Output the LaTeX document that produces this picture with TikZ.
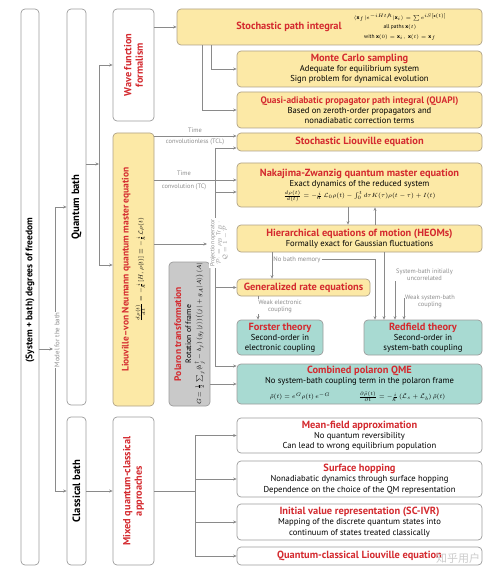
\documentclass[tikz,border=0pt]{standalone}
\usepackage{amsmath,amssymb}
\usepackage{fontspec}
\setmainfont{PT Sans}
\newfontfamily\cjkfont{Noto Sans CJK SC}
\usetikzlibrary{arrows.meta}
\definecolor{ylw}{HTML}{FCE9A6}
\definecolor{tealb}{HTML}{A8DAD2}
\definecolor{polg}{HTML}{C9C9C9}
\definecolor{edgeg}{HTML}{9C9C9C}
\definecolor{yedge}{HTML}{AFA287}
\definecolor{titred}{HTML}{D42A2F}
\definecolor{lblgray}{HTML}{8C8C8C}
\definecolor{arrg}{HTML}{8A8A8A}
\newcommand{\ttl}[1]{{\fontsize{10.4}{10.5}\selectfont\bfseries\color{titred}#1}}
\newcommand{\ttlq}[1]{{\fontsize{9.4}{10.5}\selectfont\bfseries\color{titred}#1}}
\newcommand{\ttlv}[1]{{\fontsize{9.5}{11}\selectfont\bfseries\color{titred}#1}}
\newcommand{\smallmath}{\fontsize{6.3}{8}\selectfont}
\begin{document}
\begin{tikzpicture}[x=1pt,y=-1pt,
  box/.style={draw=edgeg, line width=0.7pt, rounded corners=4pt, inner sep=0pt, align=center, font=\fontsize{8.6}{10.2}\selectfont},
  wbox/.style={box, fill=white},
  ybox/.style={box, fill=ylw, draw=yedge},
  tbox/.style={box, fill=tealb},
  gbox/.style={box, fill=polg},
  hb/.style={font=\fontsize{9.5}{11}\selectfont\bfseries, inner sep=0pt},
  hbl/.style={font=\fontsize{10.6}{11}\selectfont\bfseries, inner sep=0pt},
  hr/.style={font=\fontsize{10.3}{11.5}\selectfont\bfseries, inner sep=0pt, text=titred, align=center},
  lbl/.style={text=lblgray, font=\fontsize{6.4}{7.4}\selectfont, inner sep=0.8pt, align=center},
  arr/.style={draw=arrg, line width=0.6pt, -{Stealth[length=3.5pt,width=3pt]}},
  conn/.style={draw=arrg, line width=0.6pt}]
\useasboundingbox (0,0) rectangle (500,577);

% ---------- left columns ----------
\node[wbox, minimum width=18, minimum height=556] (sys) at (30,287) {};
\node[rotate=90, hb] (syst) at (30,290) {(System + bath) degrees of freedom};
\node[wbox, minimum width=19, minimum height=396] (qb) at (76.5,207) {};
\node[rotate=90, hbl] (qbt) at (qb) {Quantum bath};
\node[wbox, minimum width=19, minimum height=148] (cb) at (76.5,491) {};
\node[rotate=90, hbl] (cbt) at (cb) {Classical bath};

\node[wbox, minimum width=41, minimum height=112] (wf) at (133.5,65) {};
\node[rotate=90, hr] (wft) at (wf) {Wave function\\formalism};
\node[ybox, minimum width=41, minimum height=273] (lvn) at (133.5,269.5) {};
\node[rotate=90, align=center, inner sep=0pt] (lvnt) at (lvn)
  {\ttlv{Liouville–von Neumann quantum master equation}\\[2pt]
   {\smallmath$\frac{d\rho(t)}{dt} = -\frac{i}{\hbar}[H,\rho(t)] \equiv -\frac{i}{\hbar}\mathcal{L}\rho(t)$}};
\node[wbox, minimum width=41, minimum height=148] (mqc) at (133.5,491) {};
\node[rotate=90, hr] (mqct) at (mqc) {Mixed quantum-classical\\approaches};

\node[gbox, minimum width=41, minimum height=144] (pol) at (189.5,334) {};
\node[rotate=90, align=center, inner sep=0pt, font=\fontsize{7.8}{10}\selectfont] (polt) at (pol)
  {\ttlv{Polaron transformation}\\Rotation of frame\\
   {\smallmath$G=\frac{1}{2}\sum_j(b_j^{\dagger}-b_j)\,(g_j|j\rangle)\big(\langle j|+g_A|A\rangle\big)\langle A|$}};

% ---------- right column: quantum ----------
\node[ybox, minimum width=305, minimum height=36] (spi) at (329.5,27) {};
\node[inner sep=0pt] (spit) at (289,27) {\ttl{Stochastic path integral}};
\node[inner sep=0pt, align=center, font=\fontsize{5.5}{9.5}\selectfont] (spif) at (400,27)
  {$\langle\mathbf{x}_f|e^{-iHt/\hbar}|\mathbf{x}_i\rangle=\sum e^{iS[\mathbf{x}(t)]}$\\
   all paths $\mathbf{x}(t)$\\
   with $\mathbf{x}(0)=\mathbf{x}_i,\ \mathbf{x}(t)=\mathbf{x}_f$};

\node[ybox, minimum width=245, minimum height=36] (mc) at (359.5,69)
  {\ttl{Monte Carlo sampling}\\Adequate for equilibrium system\\Sign problem for dynamical evolution};
\node[ybox, minimum width=245, minimum height=36] (quapi) at (359.5,110)
  {\ttlq{Quasi-adiabatic propagator path integral (QUAPI)}\\Based on zeroth-order propagators and\\nonadiabatic correction terms};
\node[ybox, minimum width=245, minimum height=18] (sle) at (359.5,142)
  {\ttl{Stochastic Liouville equation}};
\node[ybox, minimum width=245, minimum height=44] (nz) at (359.5,185)
  {\ttl{Nakajima-Zwanzig quantum master equation}\\Exact dynamics of the reduced system\\[1pt]
   {\smallmath$\frac{d\rho(t)}{d(t)}=-\frac{i}{\hbar}\,\mathcal{L}_0\rho(t)-\int_0^t d\tau K(\tau)\rho(t-\tau)+I(t)$}};
\node[ybox, minimum width=245, minimum height=27] (heom) at (359.5,238.5)
  {\ttl{Hierarchical equations of motion (HEOMs)}\\Formally exact for Gaussian fluctuations};
\node[ybox, minimum width=133, minimum height=17] (gre) at (303.5,287.5)
  {\ttl{Generalized rate equations}};
\node[tbox, minimum width=86, minimum height=35] (fo) at (280,337.5)
  {\ttl{Forster theory}\\Second-order in\\electronic coupling};
\node[tbox, minimum width=118, minimum height=35] (rf) at (423,337.5)
  {\ttl{Redfield theory}\\Second-order in\\system-bath coupling};
\node[tbox, minimum width=245, minimum height=40] (cp) at (359.5,384) {};
\node[inner sep=0pt, align=center, font=\fontsize{8.6}{10.2}\selectfont] (cpt) at (359.5,376)
  {\ttl{Combined polaron QME}\\No system-bath coupling term in the polaron frame};
\node[inner sep=0pt, font=\smallmath] (cpe1) at (300,396.5) {$\tilde\rho(t)=e^{G}\rho(t)\,e^{-G}$};
\node[inner sep=0pt, font=\smallmath] (cpe2) at (402,396.5) {$\frac{\partial\tilde\rho(t)}{\partial t}=-\frac{i}{\hbar}\,(\tilde{\mathcal{L}}_s+\tilde{\mathcal{L}}_b)\,\tilde\rho(t)$};

% ---------- right column: classical ----------
\node[wbox, minimum width=245, minimum height=35] (mf) at (359.5,435.5)
  {\ttl{Mean-field approximation}\\No quantum reversibility\\Can lead to wrong equilibrium population};
\node[wbox, minimum width=245, minimum height=36] (sh) at (359.5,479)
  {\ttl{Surface hopping}\\Nonadiabatic dynamics through surface hopping\\Dependence on the choice of the QM representation};
\node[wbox, minimum width=245, minimum height=36] (ivr) at (359.5,522)
  {\ttl{Initial value representation (SC-IVR)}\\Mapping of the discrete quantum states into\\continuum of states treated classically};
\node[wbox, minimum width=245, minimum height=18] (qcl) at (359.5,556)
  {\ttl{Quantum-classical Liouville equation}};

% ---------- connectors: left ----------
\coordinate (mb) at (53,349);
\coordinate (mtop) at (55,207);
\coordinate (mbot) at (55,491);
\draw[arr] (sys.east |- mb) -- (mb);
\draw[conn] (mtop) -- (mbot);
\draw[arr] (mtop) -- (qb.west |- mtop);
\draw[arr] (mbot) -- (cb.west |- mbot);
\node[lbl, rotate=90, fill=white, font=\fontsize{6.8}{7}\selectfont] (mfb) at (57,340) {Model for the bath};

\coordinate (qj) at (99,164);
\draw[arr] (qb.east |- qj) -- (qj);
\draw[arr] (qj) |- (wf.west);
\draw[arr] (qj) |- (lvn.west |- 0,265);
\draw[arr] (cb.east) -- (mqc.west);

\coordinate (cj) at (195,491);
\draw[conn] (mqc.east) -- (cj);
\draw[arr] (cj) |- (mf.west);
\draw[arr] (cj) |- (sh.west);
\draw[arr] (cj) |- (ivr.west);
\draw[arr] (cj) |- (qcl.west);

% ---------- connectors: quantum ----------
\draw[arr] (wf.east |- spi.west) -- (spi.west);
\draw[arr] (spi.south -| 211,0) |- (mc.west);
\draw[arr] (spi.south -| 202,0) |- (quapi.west);

\draw[arr] (lvn.east |- 0,136) -- (sle.west |- 0,136);
\node[lbl] (t1a) at (195,130.5) {Time};
\node[lbl] (t1b) at (195,142) {convolutionless (TCL)};
\draw[arr] (lvn.east |- 0,180) -- (nz.west |- 0,180);
\node[lbl] (t2a) at (184,173.5) {Time};
\node[lbl] (t2b) at (184,187) {convolution (TC)};
\coordinate (pe) at (207,244);
\draw[arr] (lvn.east |- pe) -- (pe);

\coordinate (p1) at (215,148);
\coordinate (p2) at (215,366);
\draw[conn] (p1) -- (p2);
\draw[arr] (p1) -- (sle.west |- p1);
\draw[arr] (p1 |- 0,192) -- (nz.west |- 0,192);
\draw[arr] (p1 |- gre.west) -- (gre.west);
\draw[arr] (p2) -- (cp.west |- p2);
\node[lbl, rotate=90, fill=white, font=\fontsize{5.8}{6.3}\selectfont] (proj) at (219,243)
  {Projection operator\\ $\mathcal{P}\cdot=\rho_B\,\mathrm{Tr}_B\,\cdot$\\ $\mathcal{Q}=1-\mathcal{P}$};
\draw[arr] (pol.east |- cp.west) -- (cp.west);

\draw[arr] (nz.south -| 348,0) -- (heom.north -| 348,0);
\draw[arr] (heom.north -| 375,0) -- (nz.south -| 375,0);

\draw[arr] (heom.south -| 272,0) -- (gre.north -| 272,0);
\node[lbl, fill=white, font=\fontsize{6.6}{7}\selectfont] (nbm) at (297,259.5) {No bath memory};
\draw[arr] (nbm.east) -| (rf.north -| 375,0);
\draw[arr] (heom.south -| 384,0) -- (rf.north -| 384,0);
\node[lbl] (sbu) at (424.5,275) {System-bath initially\\uncorrelated};
\draw[arr] (395,281) -- (rf.north -| 395,0);
\node[lbl] (wsb) at (430,301.5) {Weak system-bath\\coupling};
\draw[arr] (404,298) -- (rf.north -| 404,0);
\draw[arr] (gre.south -| 258,0) -- (fo.north -| 258,0);
\node[lbl, fill=white] (wec) at (280,306.5) {Weak electronic\\coupling};

% watermark
\node[text=gray!40, font=\cjkfont\fontsize{11}{11}\selectfont] (wm) at (458,558) {知乎用户};
\end{tikzpicture}
\end{document}
